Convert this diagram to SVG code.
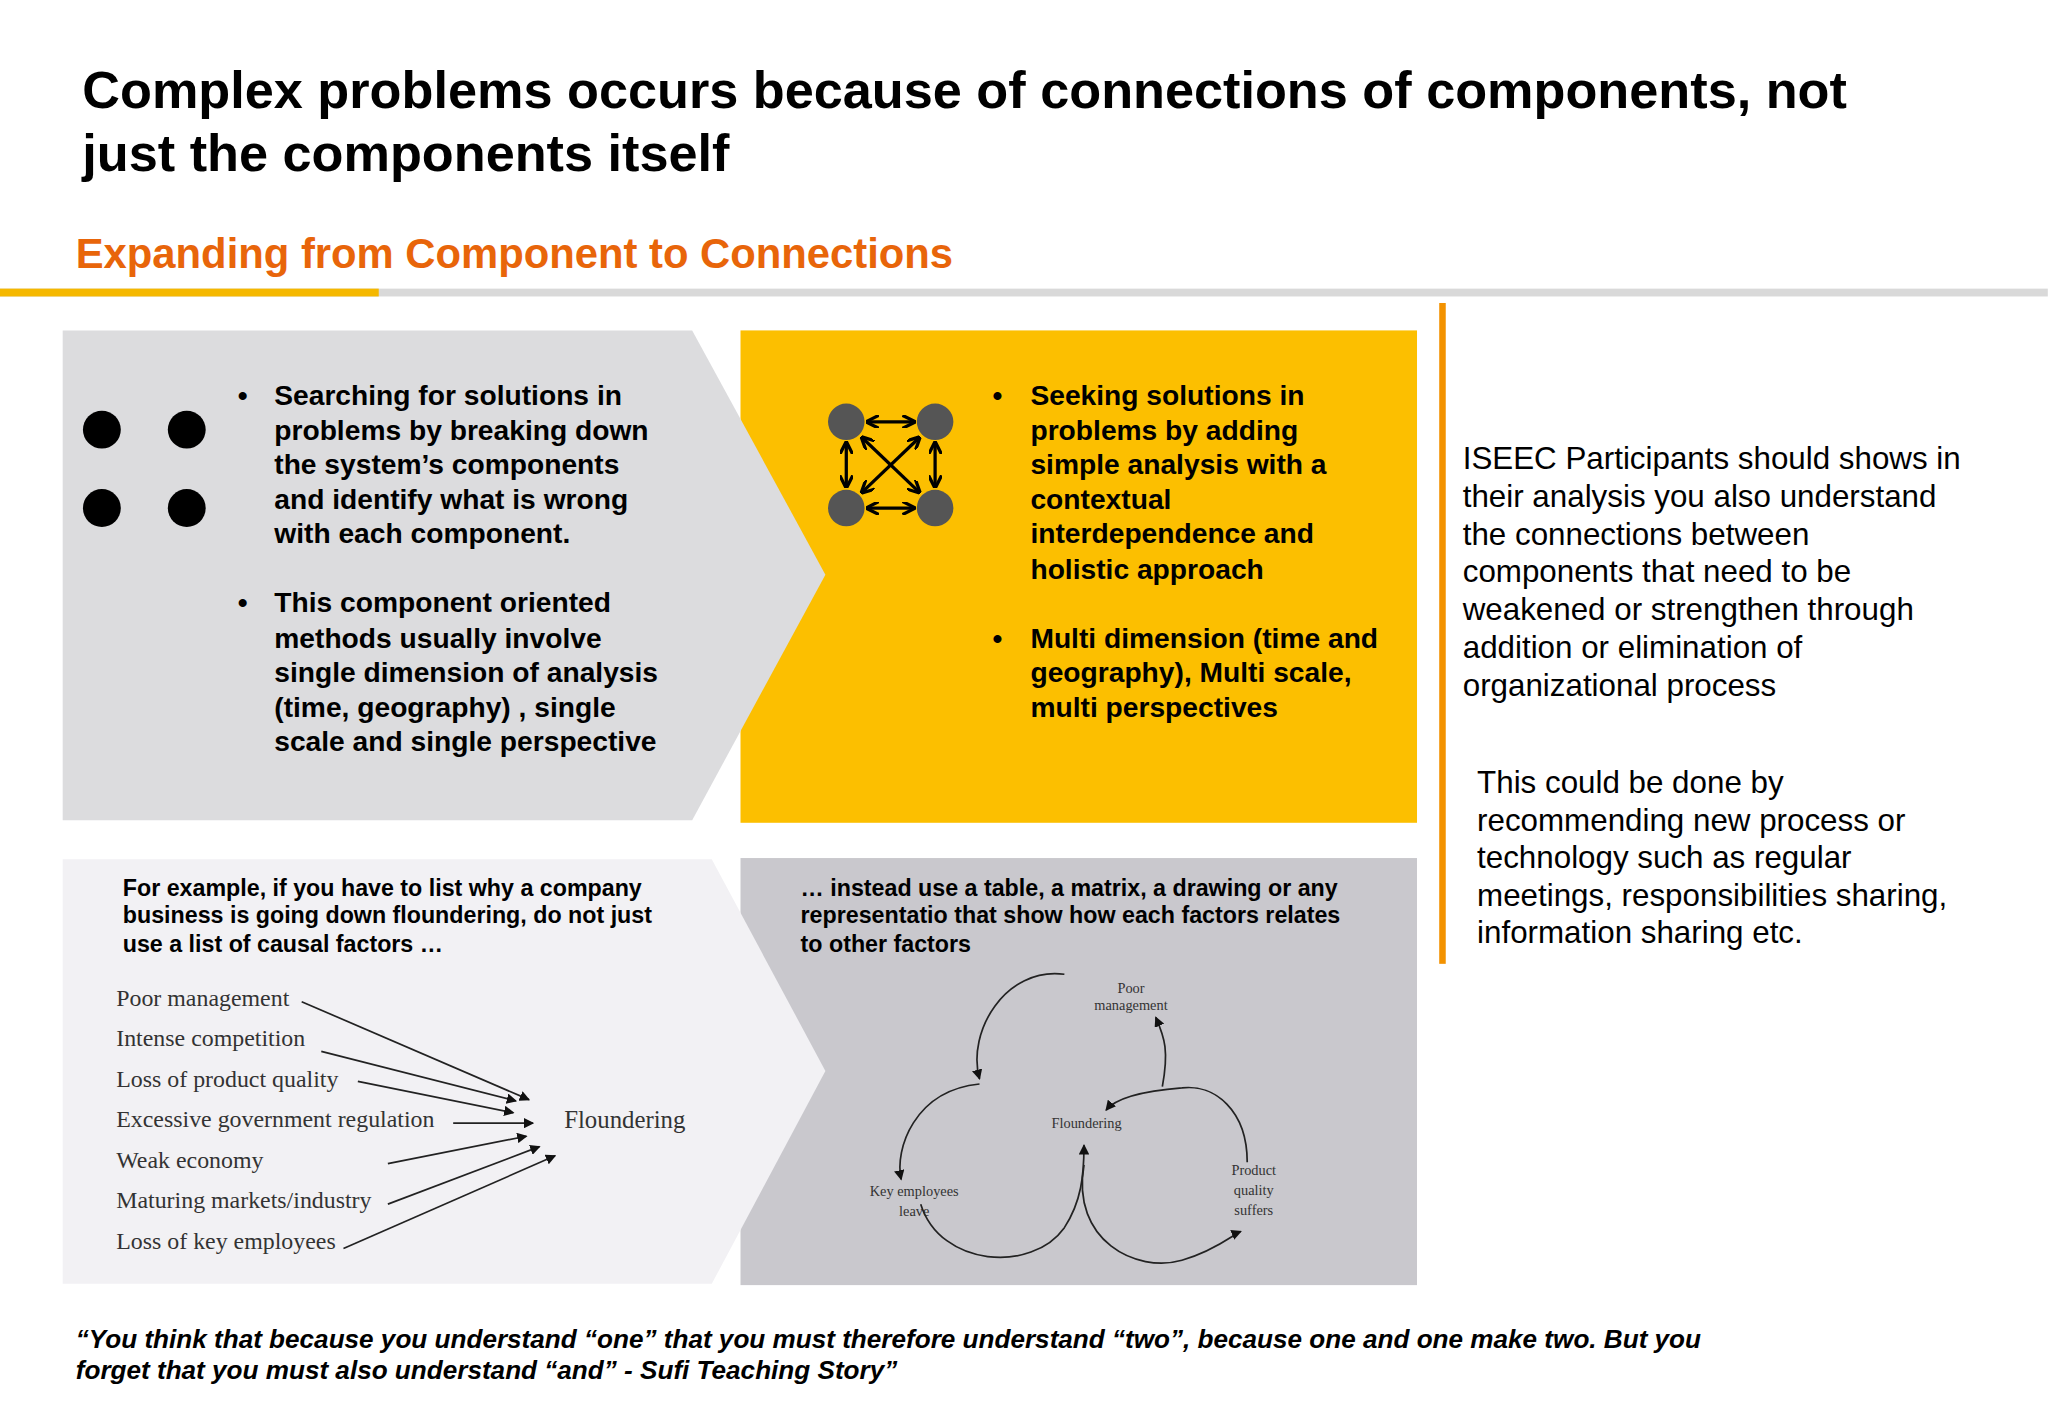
<svg xmlns="http://www.w3.org/2000/svg" width="2048" height="1418" viewBox="0 0 2048 1418">
<style>
.t{font-family:"Liberation Sans",Arial,sans-serif;fill:#000}
.b{font-weight:bold}
.s{font-family:"Liberation Serif","DejaVu Serif",serif;fill:#333}
.ln{stroke:#222;stroke-width:1.3;fill:none}
</style>
<defs>
<marker id="ah" markerWidth="8" markerHeight="8" refX="7" refY="4" orient="auto" markerUnits="userSpaceOnUse"><path d="M0,0 L8,4 L0,8 z" fill="#111"/></marker>
<marker id="bk" markerWidth="10" markerHeight="10" refX="9" refY="5" orient="auto-start-reverse" markerUnits="userSpaceOnUse"><path d="M0,0 L10,5 L0,10" fill="none" stroke="#000" stroke-width="2.5"/></marker>
</defs>
<rect width="2048" height="1418" fill="#fff"/>
<g transform="scale(1.306)">
<g id="header">
<text class="t b" x="63" y="83" font-size="40">Complex problems occurs because of connections of components, not</text>
<text class="t b" x="63" y="131" font-size="40">just the components itself</text>
<text class="t b" x="58" y="205" font-size="32" style="fill:#E8650A">Expanding from Component to Connections</text>
<rect x="0" y="221" width="1568" height="6" fill="#d9d9d9"/>
<rect x="0" y="221" width="290" height="6" fill="#F5B800"/>
<rect x="1102" y="232" width="5" height="506" fill="#F39200"/>
</g>
<g id="panel-connections">
<rect x="567" y="253" width="518" height="377" fill="#FCBF00"/>
<g stroke="#000" stroke-width="2.5" marker-start="url(#bk)" marker-end="url(#bk)">
<line x1="664" y1="323" x2="700" y2="323"/>
<line x1="664" y1="389" x2="700" y2="389"/>
<line x1="648" y1="339" x2="648" y2="373"/>
<line x1="716" y1="339" x2="716" y2="373"/>
<line x1="660" y1="335" x2="704" y2="377"/>
<line x1="704" y1="335" x2="660" y2="377"/>
</g>
<circle cx="648" cy="323" r="14" fill="#555"/><circle cx="716" cy="323" r="14" fill="#555"/>
<circle cx="648" cy="389" r="14" fill="#555"/><circle cx="716" cy="389" r="14" fill="#555"/>
<g class="t b" font-size="21.6">
<text x="760" y="310">•</text>
<text x="789" y="310">Seeking solutions in</text>
<text x="789" y="337">problems by adding</text>
<text x="789" y="363">simple analysis with a</text>
<text x="789" y="390">contextual</text>
<text x="789" y="416">interdependence and</text>
<text x="789" y="443">holistic approach</text>
<text x="760" y="496">•</text>
<text x="789" y="496">Multi dimension (time and</text>
<text x="789" y="522">geography), Multi scale,</text>
<text x="789" y="549">multi perspectives</text>
</g>
</g>
<g id="panel-components">
<polygon points="48,253 530,253 632,440 530,628 48,628" fill="#DCDCDE"/>
<circle cx="78" cy="329" r="14.5" fill="#000"/><circle cx="143" cy="329" r="14.5" fill="#000"/>
<circle cx="78" cy="389" r="14.5" fill="#000"/><circle cx="143" cy="389" r="14.5" fill="#000"/>
<g class="t b" font-size="21.6">
<text x="182" y="310">•</text>
<text x="210" y="310">Searching for solutions in</text>
<text x="210" y="337">problems by breaking down</text>
<text x="210" y="363">the system’s components</text>
<text x="210" y="390">and identify what is wrong</text>
<text x="210" y="416">with each component.</text>
<text x="182" y="469">•</text>
<text x="210" y="469">This component oriented</text>
<text x="210" y="496">methods usually involve</text>
<text x="210" y="522">single dimension of analysis</text>
<text x="210" y="549">(time, geography) , single</text>
<text x="210" y="575">scale and single perspective</text>
</g>
</g>
<g id="panel-loop">
<rect x="567" y="657" width="518" height="327" fill="#C9C8CD"/>
<g class="t b" font-size="17.8">
<text x="613" y="686">… instead use a table, a matrix, a drawing or any</text>
<text x="613" y="707">representatio that show how each factors relates</text>
<text x="613" y="729">to other factors</text>
</g>
<g class="s" font-size="11" text-anchor="middle">
<text x="866" y="760">Poor</text><text x="866" y="773">management</text>
<text x="832" y="864">Floundering</text>
<text x="700" y="916">Key employees</text><text x="700" y="931">leave</text>
<text x="960" y="900">Product</text><text x="960" y="915">quality</text><text x="960" y="930">suffers</text>
</g>
</g>
<g id="panel-list">
<polygon points="48,658 545,658 632,820 545,983 48,983" fill="#F2F1F4"/>
<g class="t b" font-size="17.8">
<text x="94" y="686">For example, if you have to list why a company</text>
<text x="94" y="707">business is going down floundering, do not just</text>
<text x="94" y="729">use a list of causal factors …</text>
</g>
<g class="s" font-size="18.3">
<text x="89" y="770">Poor management</text>
<text x="89" y="801">Intense competition</text>
<text x="89" y="832">Loss of product quality</text>
<text x="89" y="863">Excessive government regulation</text>
<text x="89" y="894">Weak economy</text>
<text x="89" y="925">Maturing markets/industry</text>
<text x="89" y="956">Loss of key employees</text>
<text x="432" y="864" font-size="19">Floundering</text>
</g>
</g>
<g id="connectors">
<g class="ln" marker-end="url(#ah)">
<line x1="231" y1="767" x2="405" y2="842"/>
<line x1="246" y1="805" x2="395" y2="843"/>
<line x1="274" y1="828" x2="393" y2="852"/>
<line x1="347" y1="860" x2="408" y2="860"/>
<line x1="297" y1="891" x2="403" y2="870"/>
<line x1="297" y1="922" x2="413" y2="878"/>
<line x1="263" y1="956" x2="425" y2="885"/>
<path d="M815,746 C770,740 740,790 750,826"/>
<path d="M890,832 C895,805 892,795 885,779"/>
<path d="M750,830 C700,835 685,880 690,903"/>
<path d="M705,922 C720,970 790,975 815,940 C828,920 830,900 830,877"/>
<path d="M830,892 C820,950 870,975 905,965 C930,958 945,945 950,943"/>
<path d="M955,890 C955,850 930,830 905,833 C880,835 855,840 847,850"/>
</g>
</g>
<g id="side-text" class="t" font-size="24">
<text x="1120" y="359">ISEEC Participants should shows in</text>
<text x="1120" y="388">their analysis you also understand</text>
<text x="1120" y="417">the connections between</text>
<text x="1120" y="446">components that need to be</text>
<text x="1120" y="475">weakened or strengthen through</text>
<text x="1120" y="504">addition or elimination of</text>
<text x="1120" y="533">organizational process</text>
<text x="1131" y="607">This could be done by</text>
<text x="1131" y="636">recommending new process or</text>
<text x="1131" y="665">technology such as regular</text>
<text x="1131" y="694">meetings, responsibilities sharing,</text>
<text x="1131" y="722">information sharing etc.</text>
</g>
<g id="quote" class="t b" font-size="20" font-style="italic">
<text x="58" y="1032">“You think that because you understand “one” that you must therefore understand “two”, because one and one make two. But you</text>
<text x="58" y="1056">forget that you must also understand “and” - Sufi Teaching Story”</text>
</g>
</g>
</svg>
